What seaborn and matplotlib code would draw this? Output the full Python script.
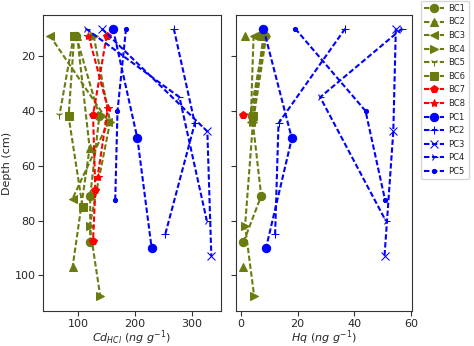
import numpy as np
import pandas as pd
import matplotlib
matplotlib.use("Agg")
import matplotlib.pyplot as plt
import seaborn as sns

nan = np.nan

# ---- data ----
series_names = ["BC1", "BC2", "BC3", "BC4", "BC5", "BC6", "BC7", "BC8",
                "PC1", "PC2", "PC3", "PC4", "PC5"]

BC1_depth = [12.5, 42, 71, 88]
BC1_cd = [96, 137, 121, 121]
BC1_hq = [8.5, 4.0, 7.2, 0.9]

BC2_depth = [12.5, 53.5, 97]
BC2_cd = [98, 120, 90]
BC2_hq = [1.5, nan, 0.9]

BC3_depth = [12.5, 44, 72]
BC3_cd = [50, 153, 90]
BC3_hq = [4.5, 3.5, nan]

BC4_depth = [12.5, 44, 82, 107.5]
BC4_cd = [127, 156, 120, 138.6]
BC4_hq = [9.0, 4.3, 1.5, 4.7]

BC5_depth = [12.5, 41.5]
BC5_cd = [92, 67]
BC5_hq = [8.5, 3.3]

BC6_depth = [12.5, 42, 75]
BC6_cd = [93, 83, 107.6]
BC6_hq = [8.0, 4.2, nan]

BC7_depth = [12.5, 41.5, 69, 87.5]
BC7_cd = [150, 126, 130, 126]
BC7_hq = [nan, 0.9, nan, nan]

BC8_depth = [12.5, 39, 64]
BC8_cd = [118, 152, 134]
BC8_hq = [nan, nan, nan]

PC1_depth = [10, 50, 90]
PC1_cd = [161, 204, 229]
PC1_hq = [8.0, 18.0, 8.9]

PC2_depth = [10, 44.5, 85]
PC2_cd = [268, 305, 253]
PC2_hq = [36.8, 13.3, 12.1]

PC3_depth = [10, 47.5, 93]
PC3_cd = [141.6, 327, 334]
PC3_hq = [54.7, 53.8, 50.7]

PC4_depth = [10, 35, 80]
PC4_cd = [113.5, 278, 326]
PC4_hq = [56.8, 28.0, 51.1]

PC5_depth = [10, 40, 72.5]
PC5_cd = [184, 169, 165]
PC5_hq = [19.2, 44.0, 50.9]

data = {
    "BC1": (BC1_depth, BC1_cd, BC1_hq), "BC2": (BC2_depth, BC2_cd, BC2_hq),
    "BC3": (BC3_depth, BC3_cd, BC3_hq), "BC4": (BC4_depth, BC4_cd, BC4_hq),
    "BC5": (BC5_depth, BC5_cd, BC5_hq), "BC6": (BC6_depth, BC6_cd, BC6_hq),
    "BC7": (BC7_depth, BC7_cd, BC7_hq), "BC8": (BC8_depth, BC8_cd, BC8_hq),
    "PC1": (PC1_depth, PC1_cd, PC1_hq), "PC2": (PC2_depth, PC2_cd, PC2_hq),
    "PC3": (PC3_depth, PC3_cd, PC3_hq), "PC4": (PC4_depth, PC4_cd, PC4_hq),
    "PC5": (PC5_depth, PC5_cd, PC5_hq),
}

# ---- styles ----
OLIVE = "#6b7b0f"
styles = {
    "BC1": (OLIVE, "o"), "BC2": (OLIVE, "^"), "BC3": (OLIVE, "<"),
    "BC4": (OLIVE, ">"), "BC5": (OLIVE, "1"), "BC6": (OLIVE, "s"),
    "BC7": ("red", "p"), "BC8": ("red", "*"),
    "PC1": ("blue", "o"), "PC2": ("blue", "+"), "PC3": ("blue", "x"),
    "PC4": ("blue", "4"), "PC5": ("blue", "."),
}
DASH = (0, (2.6, 1.2))

sns.set_style("ticks")
plt.rcParams["font.family"] = ["DejaVu Sans"]
plt.rcParams["axes.edgecolor"] = "#333333"

fig = plt.figure(figsize=(4.74, 3.46), dpi=100)
axL = fig.add_axes([43 / 474, 1 - 311 / 346, 178 / 474, 296 / 346])
axR = fig.add_axes([236 / 474, 1 - 311 / 346, 176 / 474, 296 / 346], sharey=axL)


def draw(ax, name, depth, vals):
    color, marker = styles[name]
    df = pd.DataFrame({"depth": depth, "val": vals})
    # split into contiguous runs of valid values so gaps break the line
    valid = df["val"].notna().to_numpy()
    runs, cur = [], []
    for i, ok in enumerate(valid):
        if ok:
            cur.append(i)
        elif cur:
            runs.append(cur)
            cur = []
    if cur:
        runs.append(cur)
    first = True
    for r in runs:
        sub = df.iloc[r]
        sns.lineplot(data=sub, x="val", y="depth", ax=ax, sort=False,
                     estimator=None, orient="y", color=color, marker=marker,
                     linestyle=DASH, linewidth=1.5, markersize=6,
                     markeredgecolor=color, label=name if first else None,
                     legend=False)
        first = False


for name in series_names:
    d, cd, hq = data[name]
    draw(axL, name, d, cd)
    draw(axR, name, d, hq)

axL.set_xlim(38, 351)
axR.set_xlim(-1.7, 60.4)
axL.set_ylim(113, 5)

axL.set_xticks([100, 200, 300])
axR.set_xticks([0, 20, 40, 60])
axL.set_yticks([20, 40, 60, 80, 100])
axR.tick_params(labelleft=False)
for ax in (axL, axR):
    ax.tick_params(labelsize=8, length=3.5, width=0.8, pad=2, color="#333333")
    for sp in ax.spines.values():
        sp.set_visible(True)
        sp.set_linewidth(0.8)

axL.set_ylabel("Depth (cm)", fontsize=8, labelpad=2)
axR.set_ylabel("")
axL.set_xlabel(r"$Cd_{HCl}\ (ng\ g^{-1})$", fontsize=8, labelpad=0)
axR.set_xlabel(r"$Hq\ (ng\ g^{-1})$", fontsize=8, labelpad=0)

handles, labels = axL.get_legend_handles_labels()
fig.legend(handles, labels, loc="upper left",
           bbox_to_anchor=(421 / 474, 1 - 0.5 / 346), fontsize=6,
           labelspacing=0.55, handlelength=2.4, handletextpad=0.5,
           borderpad=0.4, borderaxespad=0.0, frameon=True)

fig.savefig("out.png", dpi=100)
